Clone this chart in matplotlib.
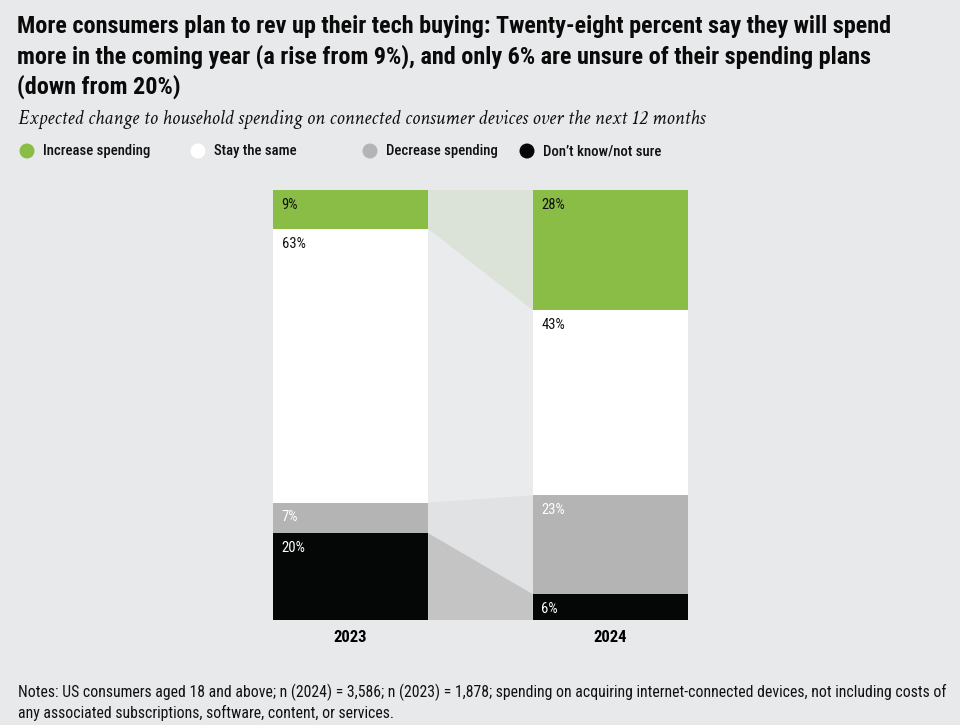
import matplotlib
matplotlib.use("Agg")
import matplotlib.pyplot as plt
from matplotlib import font_manager as fm
from matplotlib.patches import Ellipse
import numpy as np

years = ["2023", "2024"]
categories = ["Increase spending", "Stay the same", "Decrease spending", "Don\u2019t know/not sure"]
values_2023 = [9, 63, 7, 20]
values_2024 = [28, 43, 23, 6]
labels_2023 = ["9%", "63%", "7%", "20%"]
labels_2024 = ["28%", "43%", "23%", "6%"]

colors = ["#8abd45", "#ffffff", "#b4b4b4", "#050707"]
band_colors = ["#dbe2d8", "#eaebed", "#e1e2e4", "#c4c4c4"]
text_colors = ["#111111", "#111111", "#ffffff", "#ffffff"]
bg = "#e8e9eb"

names = {f.name for f in fm.fontManager.ttflist}
def pick(cands, default="DejaVu Sans"):
    for c in cands:
        if c in names:
            return c
    return default

cond = pick(["Roboto Condensed", "Barlow Condensed", "Archivo Narrow", "Open Sans Condensed"])
serif_it = pick(["Crimson Text", "Crimson Pro", "EB Garamond", "Liberation Serif"])

fig = plt.figure(figsize=(9.6, 7.25), dpi=100, facecolor=bg)
W, H = 960, 725

ax = fig.add_axes([273 / W, (H - 620) / H, (688 - 273) / W, (620 - 190) / H])
ax.set_facecolor(bg)

w = 155 / 259.5
xs = [0, 1]
data = [values_2023, values_2024]
labs = [labels_2023, labels_2024]

tops_all = []
for x, vals, lb in zip(xs, data, labs):
    vals = np.array(vals, dtype=float)
    scaled = vals * 100 / vals.sum()
    tops = 100 - np.concatenate([[0], np.cumsum(scaled)[:-1]])
    bottoms = tops - scaled
    tops_all.append((tops, bottoms))
    ax.bar([x] * 4, scaled, bottom=bottoms, width=w, color=colors,
           edgecolor="none", linewidth=0)
    for i in range(4):
        ax.text(x - w / 2 + 0.033, tops[i] - 1.8, lb[i], ha="left", va="top",
                fontsize=10.5, family=cond, color=text_colors[i])

x0, x1 = w / 2, 1 - w / 2
(t0, b0), (t1, b1) = tops_all
for i in range(4):
    ax.fill([x0, x1, x1, x0], [t0[i], t1[i], b1[i], b0[i]],
            color=band_colors[i], linewidth=0, zorder=0)

ax.set_xlim(-w / 2, 1 + w / 2)
ax.set_ylim(0, 100)
ax.set_xticks(xs)
ax.set_xticklabels(years, fontsize=12, fontweight="bold", family=cond)
ax.tick_params(axis="x", length=0, pad=7)
ax.set_yticks([])
for s in ax.spines.values():
    s.set_visible(False)

title_lines = ["More consumers plan to rev up their tech buying: Twenty-eight percent say they will spend",
               "more in the coming year (a rise from 9%), and only 6% are unsure of their spending plans",
               "(down from 20%)"]
for k, t in enumerate(title_lines):
    fig.text(17 / W, 1 - (26 + 30.5 * k) / H, t, fontsize=17.4, fontweight="black",
             family=cond, va="center", ha="left", color="#0a0a0a")
fig.text(18 / W, 1 - 119 / H,
         "Expected change to household spending on connected consumer devices over the next 12 months",
         fontsize=14.8, style="italic", family=serif_it, va="center", ha="left", color="#111111")

leg_x = [27, 198, 370, 527]
for xx, c, name in zip(leg_x, colors, categories):
    fig.patches.append(Ellipse((xx / W, 1 - 151 / H), 15 / W, 15 / H, transform=fig.transFigure,
                               facecolor=c, edgecolor="none", figure=fig))
    fig.text((xx + 16) / W, 1 - 151 / H, name, fontsize=10.6, fontweight="medium",
             family=cond, va="center", ha="left", color="#111111")

fig.text(18 / W, 1 - 692 / H,
         "Notes: US consumers aged 18 and above; n (2024) = 3,586; n (2023) = 1,878; spending on acquiring internet-connected devices, not including costs of",
         fontsize=11.35, family=cond, va="center", ha="left", color="#111111")
fig.text(18 / W, 1 - 713 / H,
         "any associated subscriptions, software, content, or services.",
         fontsize=11.35, family=cond, va="center", ha="left", color="#111111")

fig.savefig("out.png", dpi=100, facecolor=bg)
